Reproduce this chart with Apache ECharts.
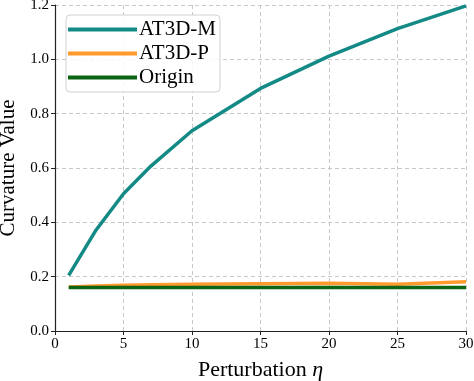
<!DOCTYPE html>
<html><head><meta charset="utf-8">
<script src="https://cdn.jsdelivr.net/npm/echarts@6/dist/echarts.min.js"></script>
<style>html,body{margin:0;padding:0;background:#fff}#c{width:474px;height:381px}</style>
</head><body><div id="c"></div>
<script>
const xValues = [1, 3, 5, 7, 10, 15, 20, 25, 30];
const at3dM = [0.205, 0.372, 0.505, 0.607, 0.737, 0.893, 1.012, 1.113, 1.197];
const at3dP = [0.162, 0.166, 0.168, 0.170, 0.172, 0.174, 0.176, 0.172, 0.181];
const origin = [0.160, 0.160, 0.160, 0.160, 0.160, 0.160, 0.160, 0.160, 0.160];
const seriesNames = ['AT3D-M', 'AT3D-P', 'Origin'];
const colors = ['#138a86', '#ff9a2e', '#0b6512'];
const xTicks = [0, 5, 10, 15, 20, 25, 30];
const yTicks = [0.0, 0.2, 0.4, 0.6, 0.8, 1.0, 1.2];

const font = '"Liberation Serif", "DejaVu Serif", serif';
const chart = echarts.init(document.getElementById('c'));
const pair = arr => xValues.map((x, i) => [x, arr[i]]);
const datasets = [at3dM, at3dP, origin];
chart.setOption({
  animation: false,
  grid: {left: 55, right: 8, top: 5, bottom: 50, containLabel: false, outerBoundsMode: 'none'},
  legend: {
    orient: 'vertical', left: 66, top: 15,
    itemWidth: 69, itemHeight: 4, itemGap: 3,
    icon: 'rect',
    backgroundColor: 'rgba(255,255,255,0.85)',
    borderColor: '#d0d0d0', borderWidth: 1, borderRadius: 4,
    padding: [4, 4, 4, 2],
    textStyle: {fontFamily: font, fontSize: 21, color: '#000', padding: [0, 0, 0, -3]},
    data: seriesNames
  },
  xAxis: {
    type: 'value', min: 0, max: 30, interval: 5,
    name: '{a|Perturbation }{b|η}', nameLocation: 'middle', nameGap: 28,
    nameTextStyle: {rich: {a: {fontFamily: font, fontSize: 22, color: '#000'}, b: {fontFamily: font, fontSize: 22, fontStyle: 'italic', color: '#000'}}},
    axisLine: {lineStyle: {color: '#222', width: 1.2}},
    axisTick: {show: true, length: 4, lineStyle: {color: '#222'}},
    axisLabel: {fontFamily: font, fontSize: 15, color: '#000', margin: 6,
      formatter: v => xTicks.includes(v) ? String(v) : ''},
    splitLine: {show: true, lineStyle: {type: [4, 3], color: '#c8c8c8', width: 1}}
  },
  yAxis: {
    type: 'value', min: 0, max: 1.2, interval: 0.2,
    name: 'Curvature Value', nameLocation: 'middle', nameGap: 36,
    nameTextStyle: {fontFamily: font, fontSize: 21, color: '#000'},
    axisLine: {show: true, lineStyle: {color: '#222', width: 1.2}},
    axisTick: {show: true, length: 4, lineStyle: {color: '#222'}},
    axisLabel: {fontFamily: font, fontSize: 15, color: '#000', margin: 6,
      formatter: v => yTicks.some(t => Math.abs(t - v) < 1e-9) ? v.toFixed(1) : ''},
    splitLine: {show: true, lineStyle: {type: [4, 3], color: '#c8c8c8', width: 1}}
  },
  series: seriesNames.map((n, i) => ({
    name: n, type: 'line', data: pair(datasets[i]),
    showSymbol: false, symbol: 'none', z: 5 + i,
    itemStyle: {color: colors[i]},
    lineStyle: {color: colors[i], width: 3.5}
  }))
});
</script></body></html>
